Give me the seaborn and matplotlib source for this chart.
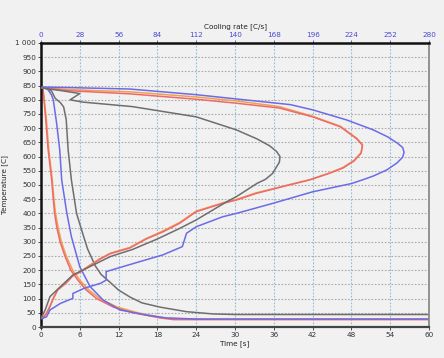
import matplotlib
matplotlib.use("Agg")
import matplotlib.pyplot as plt
import numpy as np
import pandas as pd
import seaborn as sns

sns.set_theme(style="white")
plt.rcParams["font.family"] = ["DejaVu Sans"]

# --- cooling curves: temperature vs time (bottom axis) ---
time_red = [0, 0.3, 0.7, 1.1, 1.65, 1.9, 2.1, 2.45, 2.95, 3.7, 4.6, 5.7, 7.0, 8.6, 11.2, 14.3, 18.4, 20.5, 60]
temp_red = [845, 840, 740, 625, 518, 450, 400, 350, 300, 250, 200, 165, 130, 100, 70, 50, 32, 26, 26]

time_orange = [0, 0.3, 0.8, 1.2, 1.75, 2.0, 2.25, 2.65, 3.15, 3.9, 4.9, 6.0, 7.4, 9.1, 11.8, 15.0, 19.0, 22.0, 60]
temp_orange = [845, 840, 740, 625, 518, 450, 400, 350, 300, 250, 200, 165, 130, 100, 70, 50, 32, 28, 28]

time_blue = [0, 0.5, 1.1, 1.6, 1.9, 2.4, 2.9, 3.2, 4.0, 4.7, 6.0, 7.6, 9.6, 12.2, 16.3, 19.4, 24, 60]
temp_blue = [845, 843, 835, 818, 800, 720, 623, 518, 400, 318, 212, 142, 95, 60, 42, 32, 28, 28]

time_gray = [0, 1.0, 1.65, 2.2, 3.0, 3.5, 3.9, 4.2, 4.7, 5.5, 6.3, 7.2, 8.4, 9.3, 10.8, 12.0, 13.8, 15.6, 18.4, 22.5, 26.6, 30, 60]
temp_gray = [845, 840, 830, 805, 790, 775, 730, 623, 518, 400, 340, 275, 215, 185, 155, 130, 105, 85, 70, 54, 46, 44, 44]

# --- cooling rate curves: temperature vs cooling rate (top axis) ---
rate_red = [0, 20, 64, 112, 141, 172, 196, 216, 228, 232, 231, 226, 218, 208, 194, 179, 155, 141, 131, 112, 100, 88, 76, 64, 50, 43, 35, 29, 23, 18, 12, 9, 6.5, 4, 1.5, 0]
rtemp_red = [842, 832, 821, 802, 788, 771, 740, 705, 662, 640, 612, 585, 560, 541, 518, 500, 470, 447, 435, 406, 365, 335, 310, 278, 258, 240, 215, 195, 180, 154, 130, 101, 72, 48, 32, 30]

rate_orange = [0, 20, 64, 112, 141, 172, 196, 216, 228, 232, 231, 226, 218, 208, 194, 179, 155, 141, 131, 112, 100, 88, 76, 64, 50, 43, 35, 29, 23, 18, 12, 9, 6.5, 4, 1.5, 0]
rtemp_orange = [843, 836, 828, 810, 796, 776, 742, 707, 664, 642, 614, 587, 562, 542, 519, 501, 472, 449, 437, 408, 368, 338, 312, 280, 260, 242, 217, 197, 182, 156, 132, 103, 74, 50, 34, 31]

rate_blue = [0, 20, 64, 112, 141, 180, 196.5, 220.6, 239.8, 250, 257, 261, 262, 261, 257, 249.5, 240, 232, 224, 196, 167, 141, 131, 112, 105, 102, 88, 67, 47, 47, 43, 31, 23, 23, 14, 6.5, 4, 1, 0]
rtemp_blue = [845, 843, 838, 818, 803, 783, 764, 729, 694, 670, 648, 632, 615, 598, 578, 553, 532, 518, 505, 476, 435, 400, 388, 353, 330, 283, 254, 224, 195, 165, 154, 136, 118, 101, 83, 60, 36, 30, 30]

rate_gray = [0, 15, 28, 21, 30, 66, 112, 141, 156, 165, 170, 172.5, 172, 170, 167, 162, 156, 141, 134, 112, 100, 84, 66, 50, 33, 23, 14, 6.5, 3, 0.5, 0]
rtemp_gray = [842, 832, 822, 800, 792, 776, 740, 694, 662, 638, 618, 600, 580, 564, 540, 520, 506, 459, 441, 377, 347, 310, 273, 248, 207, 183, 142, 107, 60, 36, 32]

time_ticks = list(range(0, 61, 6))
rate_ticks = list(range(0, 281, 28))
temp_ticks = list(range(0, 1001, 50))
temp_labels = [("1 000" if t == 1000 else str(t)) for t in temp_ticks]

colors = {"orange": "#f0a050", "red": "#ee6a6a", "blue": "#6b6be8", "gray": "#6e6e6e"}
order = ["orange", "red", "blue", "gray"]

cool = pd.concat([
    pd.DataFrame({"t": time_orange, "T": temp_orange, "s": "orange"}),
    pd.DataFrame({"t": time_red, "T": temp_red, "s": "red"}),
    pd.DataFrame({"t": time_blue, "T": temp_blue, "s": "blue"}),
    pd.DataFrame({"t": time_gray, "T": temp_gray, "s": "gray"}),
], ignore_index=True)

rate = pd.concat([
    pd.DataFrame({"r": rate_orange, "T": rtemp_orange, "s": "orange"}),
    pd.DataFrame({"r": rate_red, "T": rtemp_red, "s": "red"}),
    pd.DataFrame({"r": rate_blue, "T": rtemp_blue, "s": "blue"}),
    pd.DataFrame({"r": rate_gray, "T": rtemp_gray, "s": "gray"}),
], ignore_index=True)

bg = "#f1f1f1"
fig = plt.figure(figsize=(4.44, 3.58), dpi=100, facecolor=bg)
ax = fig.add_axes([41 / 444, 1 - 327 / 358, 388 / 444, 284 / 358])
ax.set_facecolor(bg)

sns.lineplot(data=cool, x="t", y="T", hue="s", hue_order=order, palette=colors,
             sort=False, estimator=None, legend=False, linewidth=1.1, ax=ax)

ax2 = ax.twiny()
sns.lineplot(data=rate, x="r", y="T", hue="s", hue_order=order, palette=colors,
             sort=False, estimator=None, legend=False, linewidth=1.1, ax=ax2)

ax.set_xlim(0, 60)
ax.set_ylim(0, 1000)
ax2.set_xlim(0, 280)
ax.set_xticks(time_ticks)
ax.set_yticks(temp_ticks)
ax.set_yticklabels(temp_labels)
ax2.set_xticks(rate_ticks)

for x in time_ticks[1:-1]:
    ax.axvline(x, color="#8fbfda", linestyle=(0, (1.5, 1.5)), linewidth=0.8, zorder=0)
for y in temp_ticks[1:-1]:
    ax.axhline(y, color="#ababab", linestyle=(0, (1.5, 1.5)), linewidth=0.8, zorder=0)

ax.tick_params(axis="both", labelsize=5.2, length=2, width=0.6, pad=1.5,
               colors="#333333", left=True, bottom=True)
ax2.tick_params(axis="x", labelsize=5.2, length=2, width=0.6, pad=1.5,
                colors="#4a4ad0", top=True)

ax.set_xlabel("Time [s]", fontsize=5.2, labelpad=2, color="#222222")
ax.set_ylabel("Temperature [C]", fontsize=5.2, labelpad=5, color="#222222")
ax2.set_xlabel("Cooling rate [C/s]", fontsize=5.2, labelpad=3, color="#222222")

for name, sp in ax.spines.items():
    sp.set_visible(True)
ax.spines["left"].set_color("#111111")
ax.spines["left"].set_linewidth(1.8)
ax.spines["bottom"].set_color("#444444")
ax.spines["bottom"].set_linewidth(1.6)
ax.spines["right"].set_color("#8a8a8a")
ax.spines["right"].set_linewidth(1.3)
ax.spines["top"].set_visible(False)
for name, sp in ax2.spines.items():
    sp.set_visible(name == "top")
ax2.spines["top"].set_color("#111111")
ax2.spines["top"].set_linewidth(1.8)

fig.savefig("out.png", dpi=100, facecolor=bg)
